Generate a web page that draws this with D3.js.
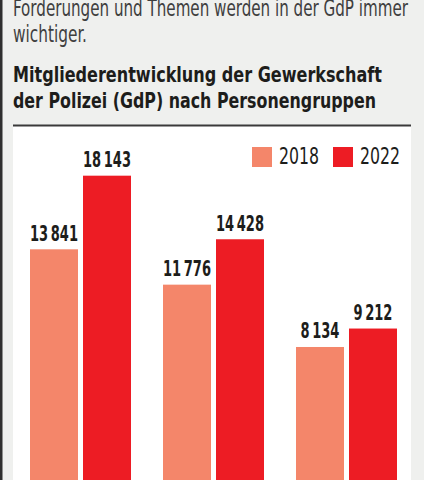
<!DOCTYPE html>
<html><head><meta charset="utf-8">
<script src="https://cdn.jsdelivr.net/npm/d3@7"></script>
<style>
html,body{margin:0;padding:0;background:#eff0ee;}
svg{display:block;}
text{font-family:"Liberation Sans Narrow","DejaVu Sans Condensed","Roboto Condensed",sans-serif;font-stretch:condensed;}
</style></head>
<body>
<svg id="c" width="424" height="480"></svg>
<script>
const introLines = ["Forderungen und Themen werden in der GdP immer", "wichtiger."];
const titleLines = ["Mitgliederentwicklung der Gewerkschaft", "der Polizei (GdP) nach Personengruppen"];
const categories = ["Gruppe A", "Gruppe B", "Gruppe C"];
const years = ["2018", "2022"];
const values2018 = [13841, 11776, 8134];
const values2022 = [18143, 14428, 9212];
const colors = ["#f4866a", "#ed1c24"];

const svg = d3.select("#c");
const W = 424, H = 480;

svg.append("rect").attr("x",0).attr("y",0).attr("width",W).attr("height",H).attr("fill","#eff0ee");
svg.append("rect").attr("x",0).attr("y",0).attr("width",2.5).attr("height",H).attr("fill","#2f2f2f");

// intro text
svg.selectAll("text.intro").data(introLines).join("text")
  .attr("class","intro")
  .attr("x",13).attr("y",(d,i)=>15.5+i*26.5)
  .attr("font-size",23).attr("fill","#3f3f3f")
  .attr("textLength",(d,i)=> i===0 ? 395 : 74)
  .attr("lengthAdjust","spacingAndGlyphs")
  .text(d=>d);

// title
svg.selectAll("text.title").data(titleLines).join("text")
  .attr("class","title")
  .attr("x",13).attr("y",(d,i)=>81.5+i*26.5)
  .attr("font-size",21).attr("font-weight","bold").attr("fill","#1d1d1b")
  .attr("textLength",(d,i)=> i===0 ? 369 : 363)
  .attr("lengthAdjust","spacingAndGlyphs")
  .text(d=>d);

// white panel and rule
svg.append("rect").attr("x",13).attr("y",126).attr("width",398).attr("height",H-126).attr("fill","#ffffff");
svg.append("rect").attr("x",13).attr("y",124.5).attr("width",398).attr("height",2).attr("fill","#3a3a3a");

const x0 = d3.scaleBand().domain(categories).range([30,397]).paddingInner(1-101/133).paddingOuter(0);
const x1 = d3.scaleBand().domain(years).range([0,x0.bandwidth()]).paddingInner(5/53).paddingOuter(0);
const y = d3.scaleLinear().domain([0,20000]).range([486.2,143.9]);

const rows = categories.map((c,i)=>({cat:c, vals:[{year:"2018",v:values2018[i]},{year:"2022",v:values2022[i]}]}));
const fmt = v => d3.format(",")(v).replace(/,/g,"\u2009");

const g = svg.selectAll("g.grp").data(rows).join("g").attr("class","grp")
  .attr("transform",d=>`translate(${x0(d.cat)},0)`);

g.selectAll("rect").data(d=>d.vals).join("rect")
  .attr("x",d=>x1(d.year)).attr("width",x1.bandwidth())
  .attr("y",d=>y(d.v)).attr("height",d=>y(0)-y(d.v))
  .attr("fill",(d,i)=>colors[i]);

g.selectAll("text.val").data(d=>d.vals).join("text").attr("class","val")
  .attr("x",d=>x1(d.year)+x1.bandwidth()/2).attr("y",d=>y(d.v)-8.5)
  .attr("text-anchor","middle").attr("font-size",20.5).attr("font-weight","bold")
  .attr("fill","#1d1d1b")
  .text(d=>fmt(d.v));
// squeeze value labels so "18 143" is ~48px wide
const vals = svg.selectAll("text.val");
const ref = vals.filter(d=>d.v===values2022[0]).node();
const kv = 48 / ref.getComputedTextLength();
vals.each(function(){ this.setAttribute("textLength", this.getComputedTextLength()*kv); this.setAttribute("lengthAdjust","spacingAndGlyphs"); });

// legend
const leg = svg.selectAll("g.leg").data(years).join("g").attr("class","leg")
  .attr("transform",(d,i)=>`translate(${252+i*81},147)`);
leg.append("rect").attr("width",20).attr("height",20).attr("fill",(d,i)=>colors[i]);
leg.append("text").attr("x",27).attr("y",17.3).attr("font-size",23).attr("fill","#1d1d1b")
  .attr("textLength",40).attr("lengthAdjust","spacingAndGlyphs").text(d=>d);
</script>
</body></html>
